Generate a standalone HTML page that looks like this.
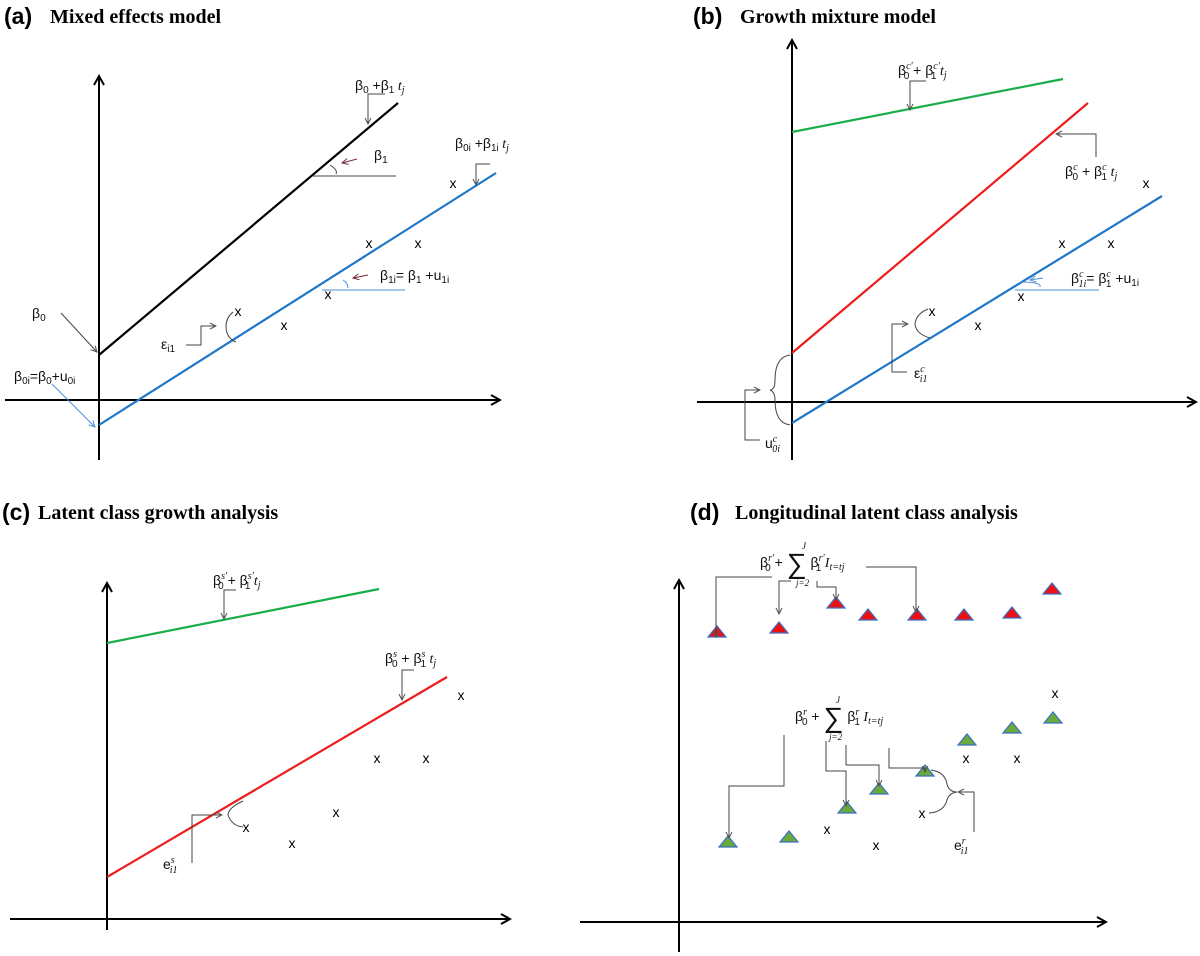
<!DOCTYPE html>
<html><head><meta charset="utf-8"><style>
body{margin:0;background:#fff}
svg{display:block}
.t{font-family:"Liberation Sans","DejaVu Sans",sans-serif;font-size:14px;fill:#111}
.it{font-style:italic;font-family:"Liberation Serif",serif}
.h{font-family:"Liberation Sans",sans-serif;font-weight:bold;font-size:23px}
.ht{font-family:"Liberation Serif",serif;font-weight:bold;font-size:20px}
.x{font-family:"Liberation Sans",sans-serif;font-size:14px}
</style></head><body>
<svg id="fig" width="1200" height="956" viewBox="0 0 1200 956" xmlns="http://www.w3.org/2000/svg">
<defs>
<marker id="ah" markerWidth="12" markerHeight="12" refX="10" refY="6" orient="auto" markerUnits="userSpaceOnUse"><path d="M1,1 L10,6 L1,11" fill="none" stroke="#000" stroke-width="2"/></marker>
<marker id="sa" markerWidth="8" markerHeight="8" refX="7" refY="4" orient="auto" markerUnits="userSpaceOnUse"><path d="M1,1 L7,4 L1,7" fill="none" stroke="#555" stroke-width="1"/></marker>
<marker id="ba" markerWidth="8" markerHeight="8" refX="7" refY="4" orient="auto" markerUnits="userSpaceOnUse"><path d="M1,1 L7,4 L1,7" fill="none" stroke="#4a8fd6" stroke-width="1"/></marker>
<marker id="ra" markerWidth="8" markerHeight="8" refX="7" refY="4" orient="auto" markerUnits="userSpaceOnUse"><path d="M1,1 L7,4 L1,7" fill="none" stroke="#7a2a3a" stroke-width="1"/></marker>
</defs>
<g id="axes"></g><g id="lines"></g><g id="marks"></g>

<text class="h" x="4" y="24">(a)</text>
<text class="ht" x="50" y="23">Mixed effects model</text>
<text class="h" x="693" y="24">(b)</text>
<text class="ht" x="740" y="23">Growth mixture model</text>
<text class="h" x="2" y="520">(c)</text>
<text class="ht" x="38" y="519">Latent class growth analysis</text>
<text class="h" x="690" y="520">(d)</text>
<text class="ht" x="735" y="519">Longitudinal latent class analysis</text>

<g class="t">
<text x="355" y="90">β<tspan font-size="10" dy="3">0</tspan><tspan dy="-3"> +β</tspan><tspan font-size="10" dy="3">1</tspan><tspan dy="-3" class="it"> t</tspan><tspan font-size="10" dy="3" class="it">j</tspan></text>
<text x="374" y="160">β<tspan font-size="10" dy="3">1</tspan></text>
<text x="455" y="148">β<tspan font-size="10" dy="3">0i</tspan><tspan dy="-3"> +β</tspan><tspan font-size="10" dy="3">1i</tspan><tspan dy="-3" class="it"> t</tspan><tspan font-size="10" dy="3" class="it">j</tspan></text>
<text x="380" y="280">β<tspan font-size="10" dy="3">1i</tspan><tspan dy="-3">= β</tspan><tspan font-size="10" dy="3">1</tspan><tspan dy="-3"> +u</tspan><tspan font-size="10" dy="3">1i</tspan></text>
<text x="32" y="318">β<tspan font-size="10" dy="3">0</tspan></text>
<text x="161" y="349">ε<tspan font-size="10" dy="3">i1</tspan></text>
<text x="14" y="381">β<tspan font-size="10" dy="3">0i</tspan><tspan dy="-3">=β</tspan><tspan font-size="10" dy="3">0</tspan><tspan dy="-3">+u</tspan><tspan font-size="10" dy="3">0i</tspan></text>
</g>
<g class="t">
<text x="898" y="75">β<tspan font-size="10" dy="-6" class="it">c′</tspan><tspan font-size="10" dx="-9" dy="10">0</tspan><tspan dy="-4"> + β</tspan><tspan font-size="10" dy="-6" class="it">c′</tspan><tspan font-size="10" dx="-9" dy="10">1</tspan><tspan dy="-4" class="it"> t</tspan><tspan font-size="10" dy="3" class="it">j</tspan></text>
<text x="1065" y="176">β<tspan font-size="10" dy="-6" class="it">c</tspan><tspan font-size="10" dx="-5" dy="10">0</tspan><tspan dy="-4"> + β</tspan><tspan font-size="10" dy="-6" class="it">c</tspan><tspan font-size="10" dx="-5" dy="10">1</tspan><tspan dy="-4" class="it"> t</tspan><tspan font-size="10" dy="3" class="it">j</tspan></text>
<text x="1071" y="283">β<tspan font-size="10" dy="-6" class="it">c</tspan><tspan font-size="10" dx="-5" dy="10" class="it">1i</tspan><tspan dy="-4">= β</tspan><tspan font-size="10" dy="-6" class="it">c</tspan><tspan font-size="10" dx="-5" dy="10">1</tspan><tspan dy="-4"> +u</tspan><tspan font-size="10" dy="3">1i</tspan></text>
<text x="914" y="378">ε<tspan font-size="10" dy="-6" class="it">c</tspan><tspan font-size="10" dx="-5" dy="10" class="it">i1</tspan></text>
<text x="765" y="448">u<tspan font-size="10" dy="-6" class="it">c</tspan><tspan font-size="10" dx="-5" dy="10" class="it">0i</tspan></text>
</g>
<g class="t">
<text x="213" y="585">β<tspan font-size="10" dy="-6" class="it">s′</tspan><tspan font-size="10" dx="-9" dy="10">0</tspan><tspan dy="-4"> + β</tspan><tspan font-size="10" dy="-6" class="it">s′</tspan><tspan font-size="10" dx="-9" dy="10">1</tspan><tspan dy="-4" class="it"> t</tspan><tspan font-size="10" dy="3" class="it">j</tspan></text>
<text x="385" y="663">β<tspan font-size="10" dy="-6" class="it">s</tspan><tspan font-size="10" dx="-5" dy="10">0</tspan><tspan dy="-4"> + β</tspan><tspan font-size="10" dy="-6" class="it">s</tspan><tspan font-size="10" dx="-5" dy="10">1</tspan><tspan dy="-4" class="it"> t</tspan><tspan font-size="10" dy="3" class="it">j</tspan></text>
<text x="163" y="869">e<tspan font-size="10" dy="-6" class="it">s</tspan><tspan font-size="10" dx="-5" dy="10" class="it">i1</tspan></text>
</g>
<g class="t">
<text x="760" y="567">β<tspan font-size="10" dy="-6" class="it">r′</tspan><tspan font-size="10" dx="-9" dy="10">0</tspan><tspan dy="-4"> + </tspan><tspan font-size="28" dy="6">∑</tspan><tspan dy="-6"> β</tspan><tspan font-size="10" dy="-6" class="it">r′</tspan><tspan font-size="10" dx="-9" dy="10">1</tspan><tspan dy="-4" class="it"> I</tspan><tspan font-size="10" dy="3" class="it">t=tj</tspan></text>
<text x="802" y="549" font-size="9" class="it">J</text>
<text x="796" y="586" font-size="9" class="it">j=2</text>
<text x="795" y="721">β<tspan font-size="10" dy="-6" class="it">r</tspan><tspan font-size="10" dx="-5" dy="10">0</tspan><tspan dy="-4"> + </tspan><tspan font-size="28" dy="6">∑</tspan><tspan dy="-6"> β</tspan><tspan font-size="10" dy="-6" class="it">r</tspan><tspan font-size="10" dx="-5" dy="10">1</tspan><tspan dy="-4" class="it"> I</tspan><tspan font-size="10" dy="3" class="it">t=tj</tspan></text>
<text x="836" y="703" font-size="9" class="it">J</text>
<text x="829" y="740" font-size="9" class="it">j=2</text>
<text x="954" y="850">e<tspan font-size="10" dy="-6" class="it">r</tspan><tspan font-size="10" dx="-5" dy="10" class="it">i1</tspan></text>
</g>

<g fill="none" stroke="#444" stroke-width="1">
<path d="M385,94 L368,94 L368,124" marker-end="url(#sa)"/>
<path d="M490,164 L476,164 L476,185" marker-end="url(#sa)"/>
<path d="M357,159 L342,163" stroke="#7a2a3a" marker-end="url(#ra)"/>
<path d="M330,165 Q338,170 336,174"/>
<path d="M368,275 L353,278" stroke="#7a2a3a" marker-end="url(#ra)"/>
<path d="M343,280 Q348,283 348,288" stroke="#4a8fd6"/>
<path d="M61,313 L97,352" marker-end="url(#sa)"/>
<path d="M52,384 L95,427" stroke="#4a8fd6" marker-end="url(#ba)"/>
<path d="M186,345 L201,345 L201,326 L216,326" marker-end="url(#sa)"/>
<path d="M233,312 Q226,318 226,326 Q226,338 236,342"/>
<path d="M926,81 L910,81 L910,110" marker-end="url(#sa)"/>
<path d="M1096,157 L1096,134 L1056,134" marker-end="url(#sa)"/>
<path d="M1043,278 L1030,280" stroke="#4a8fd6" marker-end="url(#ba)"/>
<path d="M1020,282 Q1042,282 1040,287" stroke="#4a8fd6"/>
<path d="M907,372 L892,372 L892,324 L908,324" marker-end="url(#sa)"/>
<path d="M928,309 Q916,314 915,324 Q916,334 930,338"/>
<path d="M760,440 L745,440 L745,390 L760,390" marker-end="url(#sa)"/>
<path d="M790,355 Q775,357 775,380 Q775,390 770,390 Q775,392 775,400 Q775,423 790,425"/>
<path d="M236,590 L224,590 L224,619" marker-end="url(#sa)"/>
<path d="M414,670 L402,670 L402,700" marker-end="url(#sa)"/>
<path d="M192,863 L192,815 L222,815" marker-end="url(#sa)"/>
<path d="M243,801 Q228,808 228,815 Q232,826 243,827"/>
<path d="M772,577 L716,577 L716,637" marker-end="url(#sa)"/>
<path d="M791,581 L779,581 L779,614" marker-end="url(#sa)"/>
<path d="M817,581 L817,587 L836,587 L836,600" marker-end="url(#sa)"/>
<path d="M866,567 L916,567 L916,612" marker-end="url(#sa)"/>
<path d="M784,735 L784,786 L729,786 L729,838" marker-end="url(#sa)"/>
<path d="M826,741 L826,771 L846,771 L846,806" marker-end="url(#sa)"/>
<path d="M846,745 L846,765 L879,765 L879,786" marker-end="url(#sa)"/>
<path d="M889,748 L889,768 L925,768 L925,772" marker-end="url(#sa)"/>
<path d="M974,832 L974,792 L958,792" marker-end="url(#sa)"/>
<path d="M931,770 Q945,772 947,784 Q949,792 957,792 Q949,793 947,800 Q944,812 929,813"/>
</g>
</svg>
<script>
const NS='http://www.w3.org/2000/svg';
const panelA={ox:99,oy:400}, panelB={ox:792,oy:402}, panelC={ox:107,oy:919}, panelD={ox:679,oy:922};
const aMeanLine=[0,45,299,297];
const aSubjLine=[0,-25,397,227];
const aPointsT=[354,270,319,229,185,139];
const aPointsY=[217,157,157,106,75,89];
const bGreenLine=[0,270,271,323];
const bRedLine=[0,49,296,299];
const bBlueLine=[0,-21,370,206];
const bPointsT=[354,270,319,229,186,140];
const bPointsY=[219,159,159,106,77,91];
const cGreenLine=[0,276,272,330];
const cRedLine=[0,42,340,242];
const cPointsT=[354,270,319,229,185,139];
const cPointsY=[224,161,161,107,76,92];
const dRedT=[38,100,157,189,238,285,333,373];
const dRedY=[290,294,319,307,307,307,309,333];
const dGreenT=[49,110,168,200,246,288,333,374];
const dGreenY=[80,85,114,133,151,182,194,204];
const dPointsT=[376,287,338,243,148,197];
const dPointsY=[229,164,164,109,93,77];

const ax=(p,t)=>p.ox+t, ay=(p,y)=>p.oy-y;
const gA=document.getElementById('axes'), gL=document.getElementById('lines'), gM=document.getElementById('marks');
function mk(tag,attrs,parent){const e=document.createElementNS(NS,tag);for(const k in attrs)e.setAttribute(k,attrs[k]);parent.appendChild(e);return e;}
function axis(x1,y1,x2,y2,name){const e=mk('line',{x1,y1,x2,y2,stroke:'#000','stroke-width':2,'marker-end':'url(#ah)'},gA);

}
axis(99,460,99,76,'panel-a-y-axis');axis(5,400,500,400,'panel-a-x-axis');
axis(792,460,792,40,'panel-b-y-axis');axis(697,402,1196,402,'panel-b-x-axis');
axis(107,930,107,583,'panel-c-y-axis');axis(10,919,510,919,'panel-c-x-axis');
axis(679,952,679,580,'panel-d-y-axis');axis(580,922,1106,922,'panel-d-x-axis');
function line(p,arr,color,name){const e=mk('line',{x1:ax(p,arr[0]),y1:ay(p,arr[1]),x2:ax(p,arr[2]),y2:ay(p,arr[3]),stroke:color,'stroke-width':2.2},gL);

}
line(panelA,aMeanLine,'#000','panel-a-mean-line');
line(panelA,aSubjLine,'#1f77c8','panel-a-subject-line');
line(panelB,bGreenLine,'#1aae4a','panel-b-green-line');
line(panelB,bRedLine,'#ee1c1c','panel-b-red-line');
line(panelB,bBlueLine,'#1f77c8','panel-b-blue-line');
line(panelC,cGreenLine,'#1aae4a','panel-c-green-line');
line(panelC,cRedLine,'#ee1c1c','panel-c-red-line');
mk('line',{x1:313,y1:176,x2:396,y2:176,stroke:'#444','stroke-width':1},gL);
mk('line',{x1:322,y1:290,x2:405,y2:290,stroke:'#4a8fd6','stroke-width':1},gL);
mk('line',{x1:1015,y1:290,x2:1099,y2:290,stroke:'#4a8fd6','stroke-width':1},gL);
function xs(p,T,Y,name){T.forEach((t,i)=>{const e=mk('text',{x:ax(p,t),y:ay(p,Y[i])+5,'text-anchor':'middle','class':'x'},gM);e.textContent='x';

});}
xs(panelA,aPointsT,aPointsY,'panel-a-observation');
xs(panelB,bPointsT,bPointsY,'panel-b-observation');
xs(panelC,cPointsT,cPointsY,'panel-c-observation');
xs(panelD,dPointsT,dPointsY,'panel-d-observation');
function tris(p,T,Y,fill,name){T.forEach((t,i)=>{const x=ax(p,t),y=ay(p,Y[i]);
const e=mk('polygon',{points:`${x-9},${y+5} ${x+9},${y+5} ${x},${y-6}`,fill,stroke:'#3a6fc4','stroke-width':1.2},gM);

});}
tris(panelD,dRedT,dRedY,'#ee1010','panel-d-red-class-point');
tris(panelD,dGreenT,dGreenY,'#6aaa3a','panel-d-green-class-point');
</script>
</body></html>
